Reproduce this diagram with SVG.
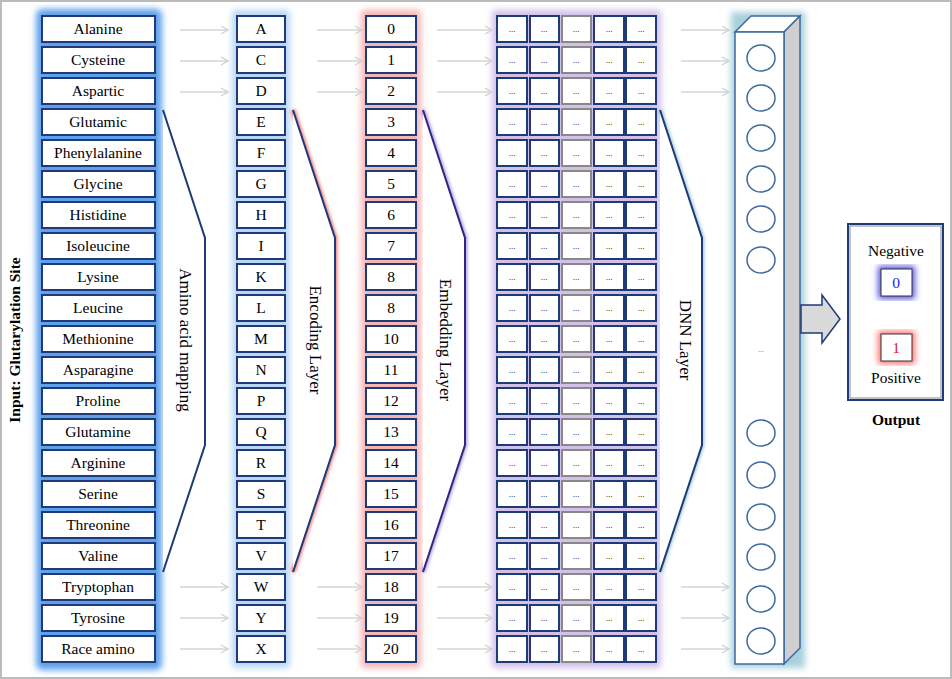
<svg xmlns="http://www.w3.org/2000/svg" xmlns:xlink="http://www.w3.org/1999/xlink" width="952" height="679" viewBox="0 0 952 679" font-family="'Liberation Serif', 'Times New Roman', serif">
<style>
text{font-family:'Liberation Serif','Times New Roman',serif;font-size:15.5px;text-anchor:middle}
.b{fill:#fff;stroke:#1f3a78;stroke-width:2}
.g{fill:#fff;stroke:#888;stroke-width:2}
text.d{font-size:9px}
.c{stroke:#d6d6d6;stroke-width:1.5;fill:none;marker-end:url(#ah)}
.t{fill:#fff;stroke:#1f3a78;stroke-width:2}
.n{fill:#fff;stroke:#3d6a9e;stroke-width:1.5}
text.lbl{font-size:17px}
text.bold{font-weight:bold}
</style>
<defs>
<filter id="bl" x="-20%" y="-5%" width="140%" height="110%"><feGaussianBlur stdDeviation="3"/></filter>
<filter id="gl" x="-20%" y="-5%" width="140%" height="110%"><feGaussianBlur stdDeviation="1.5"/></filter>
<marker id="ah" markerWidth="10" markerHeight="10" refX="8" refY="5" orient="auto" markerUnits="userSpaceOnUse"><path d="M1,1 L8,5 L1,9" fill="none" stroke="#d0d0d0" stroke-width="1.3"/></marker>
<g id="row">
<rect class="b" x="497" y="0" width="30" height="26"/><text class="d" x="512" y="16">...</text>
<rect class="b" x="530" y="0" width="29" height="26"/><text class="d" x="544" y="16">...</text>
<rect class="g" x="562" y="0" width="29" height="26"/><text class="d" x="576" y="16">...</text>
<rect class="b" x="594" y="0" width="30" height="26"/><text class="d" x="609" y="16">...</text>
<rect class="b" x="626" y="0" width="30" height="26"/><text class="d" x="641" y="16">...</text>
</g>
</defs>
<rect x="1" y="1" width="950" height="677" fill="#fff" stroke="#bbb" stroke-width="2"/>
<text class="bold" x="20" y="340" transform="rotate(-90 20 340)">Input: Glutarylation Site</text>
<rect x="36" y="9" width="126" height="661" rx="6" fill="#5fa0ea" filter="url(#bl)"/>
<rect x="232" y="10" width="58" height="658" rx="4" fill="#b9d6f5" filter="url(#bl)"/>
<rect x="361" y="10" width="60" height="658" rx="4" fill="#f6b5b5" filter="url(#bl)"/>
<rect x="492" y="10" width="169" height="658" rx="4" fill="#d2c0e8" filter="url(#bl)"/>
<g id="amino-map"><path class="t" d="M163,110 L205,238 L205,445 L163,572"/><text class="lbl" x="180" y="340" transform="rotate(90 180 340)">Amino acid mapping</text></g>
<g id="encoding"><path d="M293,110 L335,238 L335,445 L293,572" fill="none" stroke="#f08080" stroke-width="5" filter="url(#gl)"/><path class="t" d="M293,110 L335,238 L335,445 L293,572"/><text class="lbl" x="310" y="340" transform="rotate(90 310 340)">Encoding Layer</text></g>
<g id="embedding"><path d="M423,110 L465,238 L465,445 L423,572" fill="none" stroke="#b8a0e0" stroke-width="5" filter="url(#gl)"/><path class="t" d="M423,110 L465,238 L465,445 L423,572" style="stroke:#2a2a80"/><text class="lbl" x="440" y="340" transform="rotate(90 440 340)">Embedding Layer</text></g>
<g id="dnn"><path d="M660,110 L702,238 L702,445 L660,572" fill="none" stroke="#a8d0dc" stroke-width="5" filter="url(#gl)"/><path class="t" d="M660,110 L702,238 L702,445 L660,572"/><text class="lbl" x="680" y="340" transform="rotate(90 680 340)">DNN Layer</text></g>
<g id="connectors">
<path class="c" d="M180,30H228"/><path class="c" d="M180,61H228"/><path class="c" d="M180,92H228"/><path class="c" d="M180,587H228"/><path class="c" d="M180,618H228"/><path class="c" d="M180,649H228"/>
<path class="c" d="M317,30H362"/><path class="c" d="M317,61H362"/><path class="c" d="M317,92H362"/><path class="c" d="M317,587H362"/><path class="c" d="M317,618H362"/><path class="c" d="M317,649H362"/>
<path class="c" d="M437,30H492"/><path class="c" d="M437,61H492"/><path class="c" d="M437,92H492"/><path class="c" d="M437,587H492"/><path class="c" d="M437,618H492"/><path class="c" d="M437,649H492"/>
<path class="c" d="M681,30H729"/><path class="c" d="M681,61H729"/><path class="c" d="M681,92H729"/><path class="c" d="M681,587H729"/><path class="c" d="M681,618H729"/><path class="c" d="M681,649H729"/>
</g>
<g id="amino">
<rect class="b" x="42" y="16" width="113" height="26"/><text x="98" y="34">Alanine</text>
<rect class="b" x="42" y="47" width="113" height="26"/><text x="98" y="65">Cysteine</text>
<rect class="b" x="42" y="78" width="113" height="26"/><text x="98" y="96">Aspartic</text>
<rect class="b" x="42" y="109" width="113" height="26"/><text x="98" y="127">Glutamic</text>
<rect class="b" x="42" y="140" width="113" height="26"/><text x="98" y="158">Phenylalanine</text>
<rect class="b" x="42" y="171" width="113" height="26"/><text x="98" y="189">Glycine</text>
<rect class="b" x="42" y="202" width="113" height="26"/><text x="98" y="220">Histidine</text>
<rect class="b" x="42" y="233" width="113" height="26"/><text x="98" y="251">Isoleucine</text>
<rect class="b" x="42" y="264" width="113" height="26"/><text x="98" y="282">Lysine</text>
<rect class="b" x="42" y="295" width="113" height="26"/><text x="98" y="313">Leucine</text>
<rect class="b" x="42" y="326" width="113" height="26"/><text x="98" y="344">Methionine</text>
<rect class="b" x="42" y="357" width="113" height="26"/><text x="98" y="375">Asparagine</text>
<rect class="b" x="42" y="388" width="113" height="26"/><text x="98" y="406">Proline</text>
<rect class="b" x="42" y="419" width="113" height="26"/><text x="98" y="437">Glutamine</text>
<rect class="b" x="42" y="450" width="113" height="26"/><text x="98" y="468">Arginine</text>
<rect class="b" x="42" y="481" width="113" height="26"/><text x="98" y="499">Serine</text>
<rect class="b" x="42" y="512" width="113" height="26"/><text x="98" y="530">Threonine</text>
<rect class="b" x="42" y="543" width="113" height="26"/><text x="98" y="561">Valine</text>
<rect class="b" x="42" y="574" width="113" height="26"/><text x="98" y="592">Tryptophan</text>
<rect class="b" x="42" y="605" width="113" height="26"/><text x="98" y="623">Tyrosine</text>
<rect class="b" x="42" y="636" width="113" height="26"/><text x="98" y="654">Race amino</text>
</g>
<g id="letters">
<rect class="b" x="237" y="16" width="48" height="26"/><text x="261" y="34">A</text>
<rect class="b" x="237" y="47" width="48" height="26"/><text x="261" y="65">C</text>
<rect class="b" x="237" y="78" width="48" height="26"/><text x="261" y="96">D</text>
<rect class="b" x="237" y="109" width="48" height="26"/><text x="261" y="127">E</text>
<rect class="b" x="237" y="140" width="48" height="26"/><text x="261" y="158">F</text>
<rect class="b" x="237" y="171" width="48" height="26"/><text x="261" y="189">G</text>
<rect class="b" x="237" y="202" width="48" height="26"/><text x="261" y="220">H</text>
<rect class="b" x="237" y="233" width="48" height="26"/><text x="261" y="251">I</text>
<rect class="b" x="237" y="264" width="48" height="26"/><text x="261" y="282">K</text>
<rect class="b" x="237" y="295" width="48" height="26"/><text x="261" y="313">L</text>
<rect class="b" x="237" y="326" width="48" height="26"/><text x="261" y="344">M</text>
<rect class="b" x="237" y="357" width="48" height="26"/><text x="261" y="375">N</text>
<rect class="b" x="237" y="388" width="48" height="26"/><text x="261" y="406">P</text>
<rect class="b" x="237" y="419" width="48" height="26"/><text x="261" y="437">Q</text>
<rect class="b" x="237" y="450" width="48" height="26"/><text x="261" y="468">R</text>
<rect class="b" x="237" y="481" width="48" height="26"/><text x="261" y="499">S</text>
<rect class="b" x="237" y="512" width="48" height="26"/><text x="261" y="530">T</text>
<rect class="b" x="237" y="543" width="48" height="26"/><text x="261" y="561">V</text>
<rect class="b" x="237" y="574" width="48" height="26"/><text x="261" y="592">W</text>
<rect class="b" x="237" y="605" width="48" height="26"/><text x="261" y="623">Y</text>
<rect class="b" x="237" y="636" width="48" height="26"/><text x="261" y="654">X</text>
</g>
<g id="numbers">
<rect class="b" x="366" y="16" width="50" height="26"/><text x="391" y="34">0</text>
<rect class="b" x="366" y="47" width="50" height="26"/><text x="391" y="65">1</text>
<rect class="b" x="366" y="78" width="50" height="26"/><text x="391" y="96">2</text>
<rect class="b" x="366" y="109" width="50" height="26"/><text x="391" y="127">3</text>
<rect class="b" x="366" y="140" width="50" height="26"/><text x="391" y="158">4</text>
<rect class="b" x="366" y="171" width="50" height="26"/><text x="391" y="189">5</text>
<rect class="b" x="366" y="202" width="50" height="26"/><text x="391" y="220">6</text>
<rect class="b" x="366" y="233" width="50" height="26"/><text x="391" y="251">7</text>
<rect class="b" x="366" y="264" width="50" height="26"/><text x="391" y="282">8</text>
<rect class="b" x="366" y="295" width="50" height="26"/><text x="391" y="313">8</text>
<rect class="b" x="366" y="326" width="50" height="26"/><text x="391" y="344">10</text>
<rect class="b" x="366" y="357" width="50" height="26"/><text x="391" y="375">11</text>
<rect class="b" x="366" y="388" width="50" height="26"/><text x="391" y="406">12</text>
<rect class="b" x="366" y="419" width="50" height="26"/><text x="391" y="437">13</text>
<rect class="b" x="366" y="450" width="50" height="26"/><text x="391" y="468">14</text>
<rect class="b" x="366" y="481" width="50" height="26"/><text x="391" y="499">15</text>
<rect class="b" x="366" y="512" width="50" height="26"/><text x="391" y="530">16</text>
<rect class="b" x="366" y="543" width="50" height="26"/><text x="391" y="561">17</text>
<rect class="b" x="366" y="574" width="50" height="26"/><text x="391" y="592">18</text>
<rect class="b" x="366" y="605" width="50" height="26"/><text x="391" y="623">19</text>
<rect class="b" x="366" y="636" width="50" height="26"/><text x="391" y="654">20</text>
</g>
<g id="embedding-grid">
<use xlink:href="#row" y="16"/><use xlink:href="#row" y="47"/><use xlink:href="#row" y="78"/><use xlink:href="#row" y="109"/><use xlink:href="#row" y="140"/><use xlink:href="#row" y="171"/><use xlink:href="#row" y="202"/><use xlink:href="#row" y="233"/><use xlink:href="#row" y="264"/><use xlink:href="#row" y="295"/><use xlink:href="#row" y="326"/><use xlink:href="#row" y="357"/><use xlink:href="#row" y="388"/><use xlink:href="#row" y="419"/><use xlink:href="#row" y="450"/><use xlink:href="#row" y="481"/><use xlink:href="#row" y="512"/><use xlink:href="#row" y="543"/><use xlink:href="#row" y="574"/><use xlink:href="#row" y="605"/><use xlink:href="#row" y="636"/>
</g>
<g id="dnn-column">
<rect x="731" y="12" width="74" height="656" fill="#a8d0dc" filter="url(#bl)"/>
<path d="M735,32 L751,16 L800,16 L784,32 Z" fill="#fff" stroke="#3d6a9e" stroke-width="1.5"/>
<path d="M784,32 L800,16 L800,648 L784,664 Z" fill="#cfcfcf" stroke="#3d6a9e" stroke-width="1.5"/>
<rect x="735" y="32" width="49" height="632" fill="#fff" stroke="#3d6a9e" stroke-width="1.5"/>
<ellipse class="n" cx="761" cy="58" rx="14" ry="13"/><ellipse class="n" cx="761" cy="98" rx="14" ry="13"/><ellipse class="n" cx="761" cy="138" rx="14" ry="13"/><ellipse class="n" cx="761" cy="179" rx="14" ry="13"/><ellipse class="n" cx="761" cy="219" rx="14" ry="13"/><ellipse class="n" cx="761" cy="260" rx="14" ry="13"/>
<text class="d" x="761" y="352" style="fill:#3d6a9e;font-size:8px">...</text>
<ellipse class="n" cx="761" cy="433" rx="14" ry="13"/><ellipse class="n" cx="761" cy="475" rx="14" ry="13"/><ellipse class="n" cx="761" cy="517" rx="14" ry="13"/><ellipse class="n" cx="761" cy="557" rx="14" ry="13"/><ellipse class="n" cx="761" cy="599" rx="14" ry="13"/><ellipse class="n" cx="761" cy="641" rx="14" ry="13"/>
</g>
<g id="big-arrow"><path d="M801,305 H822 V295 L840,319 L822,343 V333 H801 Z" fill="#d9d9d9" stroke="#1f3a78" stroke-width="1.5"/></g>
<g id="output">
<rect x="848" y="224" width="95" height="176" fill="#fff" stroke="#1f3a78" stroke-width="2"/>
<rect x="850" y="226" width="91" height="172" fill="none" stroke="#888" stroke-width="1"/>
<text x="896" y="256">Negative</text>
<rect x="878" y="266" width="37" height="33" fill="#5555e0" filter="url(#bl)"/>
<rect x="881" y="269" width="31" height="27" fill="#fff" stroke="#333" stroke-width="1"/>
<text x="896" y="288" style="fill:#2020ff">0</text>
<rect x="878" y="331" width="37" height="33" fill="#ff7070" filter="url(#bl)"/>
<rect x="881" y="334" width="31" height="27" fill="#fff" stroke="#333" stroke-width="1"/>
<text x="896" y="353" style="fill:#e02020">1</text>
<text x="896" y="383">Positive</text>
<text class="bold" x="896" y="425">Output</text>
</g>
</svg>
